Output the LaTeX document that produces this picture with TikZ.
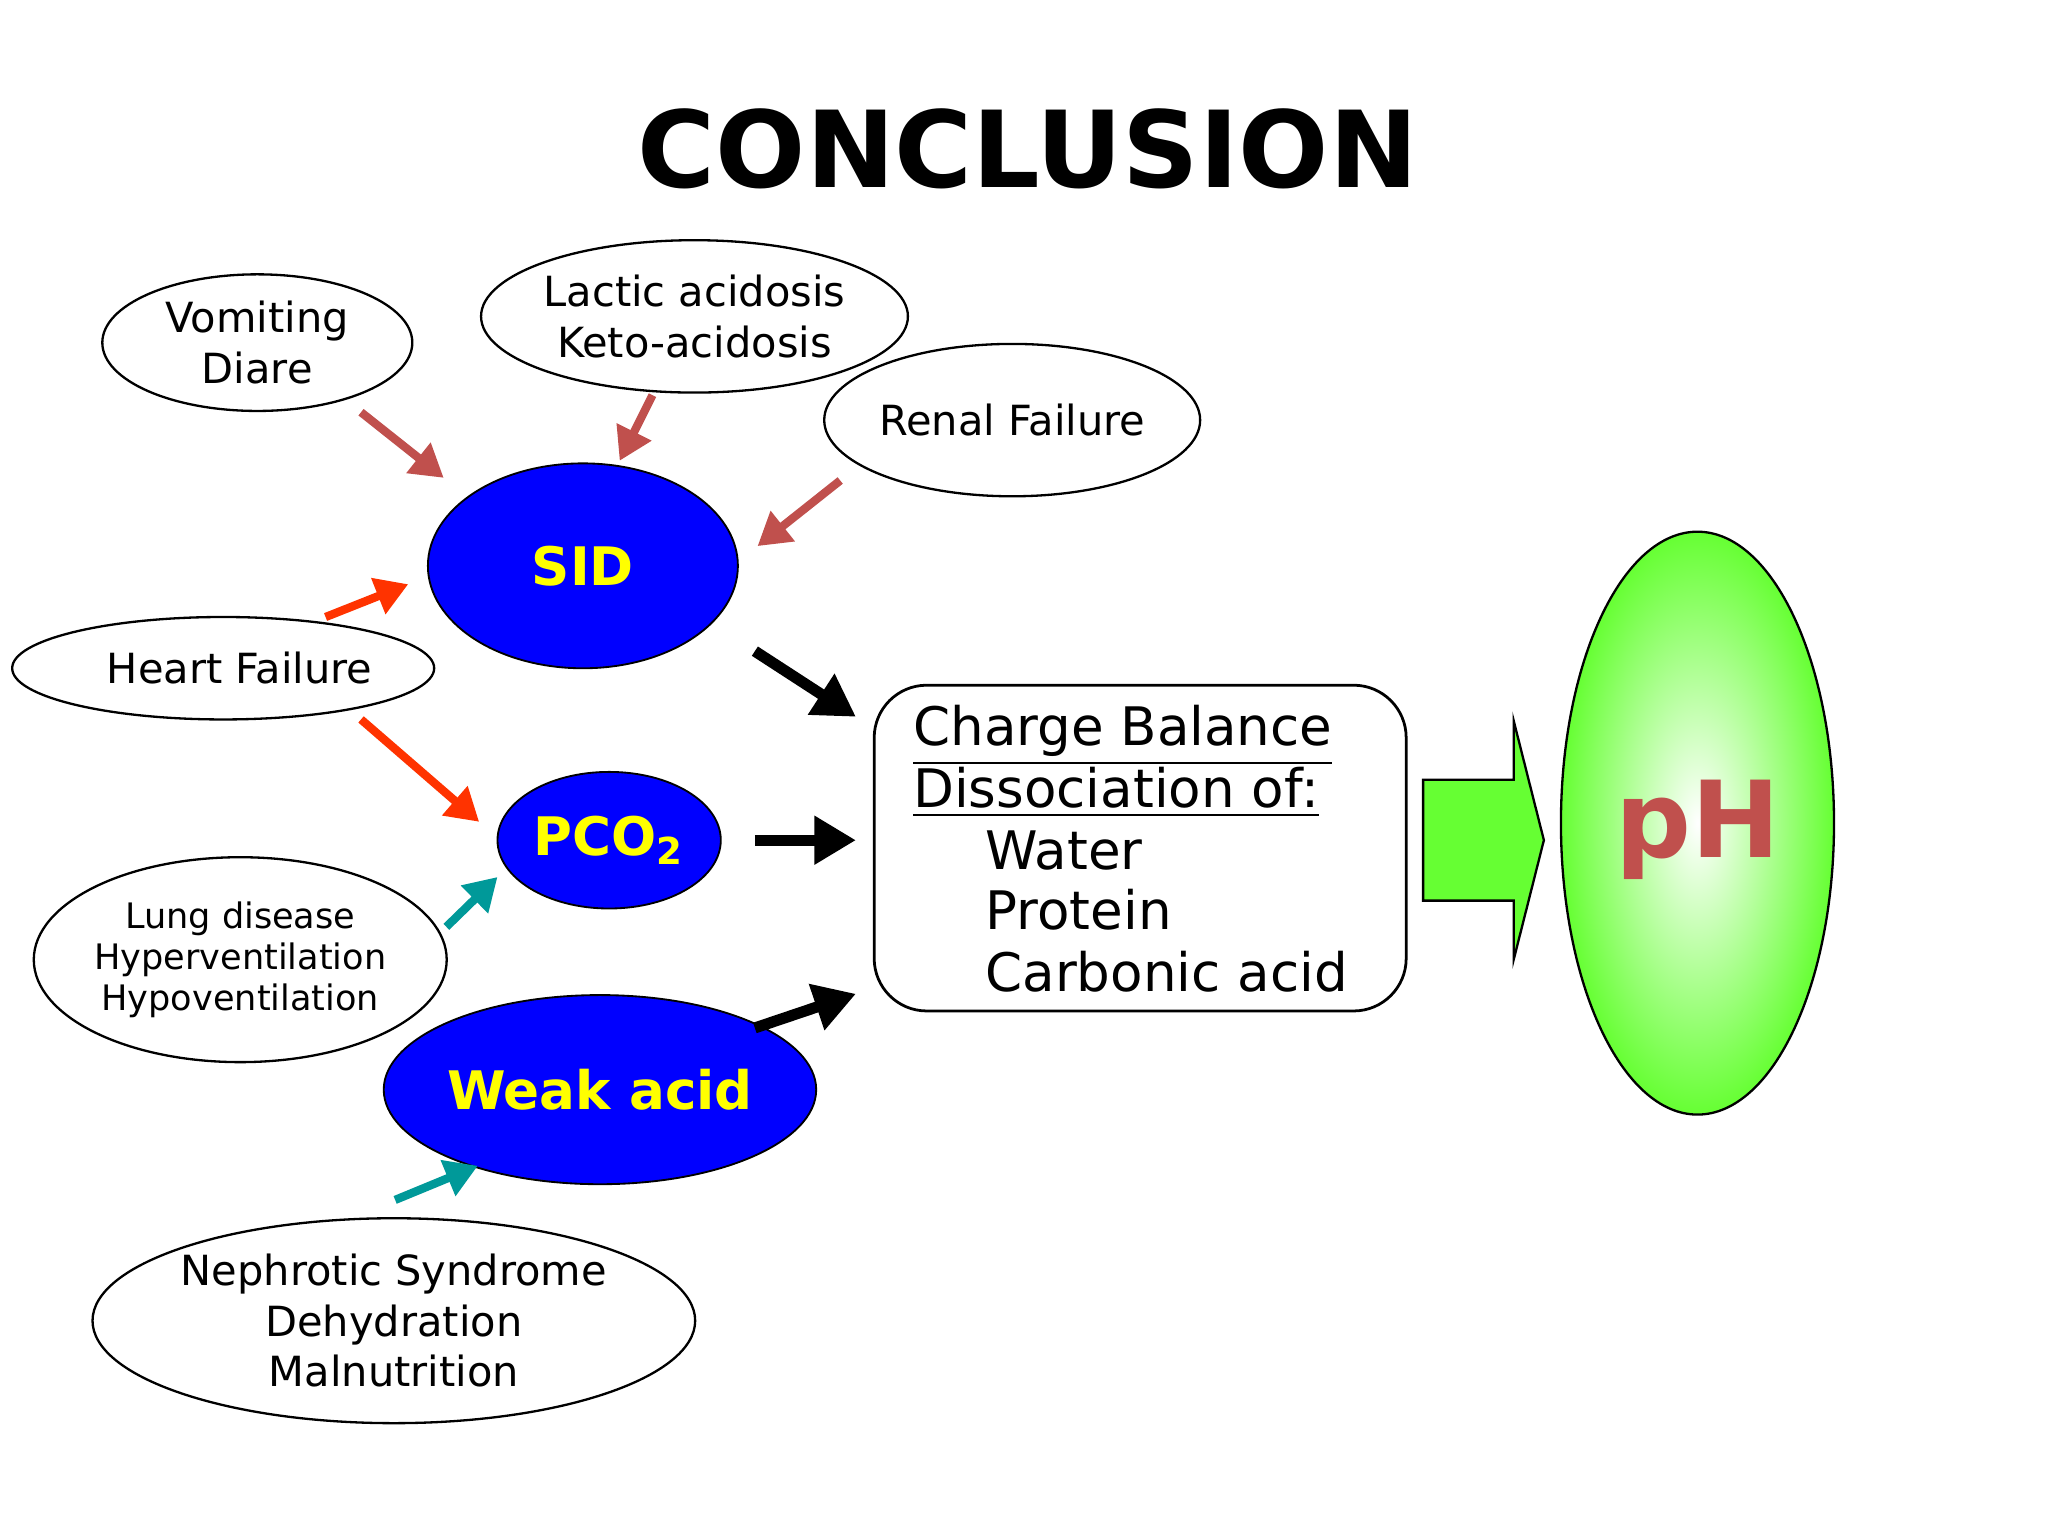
\documentclass[tikz,border=0pt]{standalone}
\usepackage{fontspec}
\setmainfont{DejaVu Sans}
\usetikzlibrary{shapes.geometric,arrows.meta}
\definecolor{brn}{HTML}{C0504D}
\definecolor{org}{HTML}{FF3300}
\definecolor{tea}{HTML}{009999}
\definecolor{grn}{HTML}{66FF33}
\definecolor{blu}{HTML}{0000FF}
\definecolor{ylw}{HTML}{FFFF00}
\tikzset{
 ell/.style={ellipse,draw,line width=0.5pt,inner sep=0pt,align=center,font=\fontsize{9}{11}\selectfont},
 blue/.style={ellipse,draw,fill=blu,inner sep=0pt,text=ylw,font=\fontsize{11.5}{13}\selectfont\bfseries},
 arr/.style={line width=1.8pt,-{Triangle[length=7pt,width=8pt]}},
 barr/.style={line width=2.4pt,-{Triangle[length=9pt,width=10pt]}},
 boxt/.style={anchor=base west,inner sep=0pt,font=\fontsize{11.5}{13}\selectfont}
}
\begin{document}
\begin{tikzpicture}[x=0.01cm,y=-0.01cm]
\useasboundingbox[fill=white] (0,0) rectangle (1560,1170);
\node[font=\fontsize{23}{26}\selectfont\bfseries] (title) at (783,113) {CONCLUSION};
\node[ell,minimum width=236\pgflinewidth*0+2.36cm,minimum height=1.04cm] (vom) at (196,261) {Vomiting\\Diare};
\node[ell,minimum width=3.0cm,minimum height=1.16cm] (lac) at (529,241) {Lactic acidosis\\Keto-acidosis};
\node[ell,minimum width=2.62cm,minimum height=1.16cm] (ren) at (771,320) {Renal Failure};
\node[ell,minimum width=2.62cm,minimum height=0.78cm] (hea) at (170,509) {\hspace*{0.25cm}Heart Failure};
\node[ell,minimum width=3.14cm,minimum height=1.56cm,font=\fontsize{7.6}{8.9}\selectfont] (lun) at (183,731) {Lung disease\\Hyperventilation\\Hypoventilation};
\node[ell,minimum width=4.44cm,minimum height=1.56cm] (nep) at (300,1006) {Nephrotic Syndrome\\Dehydration\\Malnutrition};
\node[blue,minimum width=2.36cm,minimum height=1.56cm] (sid) at (444,431) {SID};
\node[blue,minimum width=1.7cm,minimum height=1.04cm] (pco) at (464,640) {PCO$_\mathbf{2}$};
\node[blue,minimum width=2.36cm,minimum height=1.44cm] (wea) at (457,830) {Weak acid};
\node[draw,rounded corners=0.4cm,minimum width=4.05cm,minimum height=2.48cm,line width=0.6pt] (box) at (868.5,646) {};
\node[boxt] (l1) at (695,568) {\underline{Charge Balance}};
\node[boxt] (l2) at (695,615) {\underline{Dissociation of:}};
\node[boxt] (l3) at (750,662) {Water};
\node[boxt] (l4) at (750,708) {Protein};
\node[boxt] (l5) at (750,755) {Carbonic acid};
\shade[draw,inner color=white,outer color=grn,line width=0.5pt] (1293,627) ellipse [x radius=104,y radius=222];
\node[font=\fontsize{23}{26}\selectfont\bfseries,text=brn] (ph) at (1293,632) {pH};
\draw[fill=grn,line width=0.5pt] (1084,594) -- (1153,594) -- (1153,549) -- (1176,640) -- (1153,731) -- (1153,686) -- (1084,686) -- cycle;
\coordinate (a1) at (275,314); \coordinate (b1) at (338,364);
\coordinate (a2) at (497,301); \coordinate (b2) at (472,351);
\coordinate (a3) at (640,366); \coordinate (b3) at (577,416);
\coordinate (a4) at (248,470); \coordinate (b4) at (311,445);
\coordinate (a5) at (275,548); \coordinate (b5) at (365,626);
\coordinate (a6) at (340,706); \coordinate (b6) at (379,668);
\coordinate (a7) at (301,914); \coordinate (b7) at (364,888);
\coordinate (a8) at (575,496); \coordinate (b8) at (652,546);
\coordinate (a9) at (575,640); \coordinate (b9) at (652,640);
\coordinate (a10) at (575,783); \coordinate (b10) at (652,757);
\draw[arr,brn] (a1) -- (b1);
\draw[arr,brn] (a2) -- (b2);
\draw[arr,brn] (a3) -- (b3);
\draw[arr,org] (a4) -- (b4);
\draw[arr,org] (a5) -- (b5);
\draw[arr,tea] (a6) -- (b6);
\draw[arr,tea] (a7) -- (b7);
\draw[barr] (a8) -- (b8);
\draw[barr] (a9) -- (b9);
\draw[barr] (a10) -- (b10);
\end{tikzpicture}
\end{document}
